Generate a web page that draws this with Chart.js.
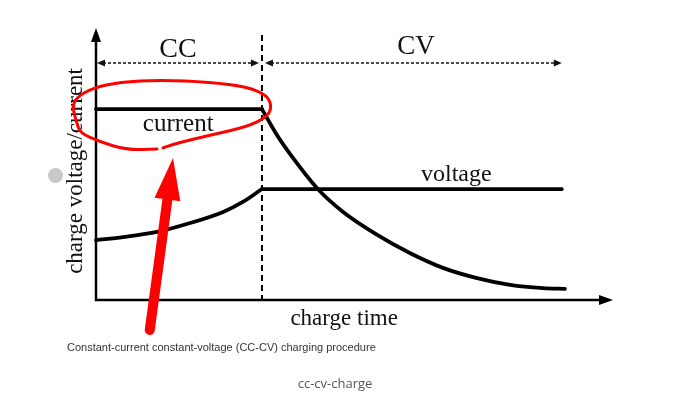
<!DOCTYPE html>
<html>
<head>
<meta charset="utf-8">
<script src="https://cdn.jsdelivr.net/npm/chart.js@4.4.1/dist/chart.umd.min.js"></script>
<style>
  html, body { margin: 0; padding: 0; background: #fff; }
  #wrap { position: relative; width: 684px; height: 401px; overflow: hidden; }
  #c { position: absolute; left: 0; top: 0; }
  .cap1 { position: absolute; left: 67px; top: 341px; font: 11px "Liberation Sans", Arial, sans-serif; color: #333; white-space: nowrap; }
  .cap2 { position: absolute; left: 0; width: 670px; top: 374px; text-align: center; font: 13px "Open Sans", "Noto Sans", sans-serif; color: #555; white-space: nowrap; }
  .dot { position: absolute; left: 48px; top: 168px; width: 15px; height: 15px; border-radius: 50%; background: #c8c8c8; }
</style>
</head>
<body>
<div id="wrap">
  <canvas id="c" width="684" height="401"></canvas>
  <div class="dot"></div>
  <div class="cap1">Constant-current constant-voltage (CC-CV) charging procedure</div>
  <div class="cap2">cc-cv-charge</div>
</div>
<script>
// ---- data (x: charge time, y: charge voltage/current, arbitrary units 0..100) ----
const timeFlat = [0, 32.1];
const currentFlat = [70.7, 70.7];
const timeDecay = [32.1, 35.0, 38.1, 42.9, 47.8, 54.4, 60.7, 67.1, 73.7, 80.1, 86.5, 90.7];
const currentDecay = [70.7, 61.1, 52.6, 41.1, 32.6, 24.1, 17.4, 11.9, 8.1, 5.6, 4.4, 4.1];
const timeRise = [0, 5.2, 11.8, 18.2, 24.6, 28.4, 32.1];
const voltageRise = [22.2, 23.3, 25.2, 28.5, 32.6, 36.3, 41.1];
const timeHold = [32.1, 90.1];
const voltageHold = [41.1, 41.1];

const phaseLabels = ["CC", "CV"];
const phaseSwitch = 32.1;      // time where CC ends and CV begins
const phaseEnd = 90.1;         // end of CV phase arrow
const phaseArrowLevel = 87.8;  // y level of the dashed phase arrows
const curveLabels = ["current", "voltage"];
const xTitle = "charge time";
const yTitle = "charge voltage/current";

// hand-drawn red annotation (data units)
const circleX = [12.96, 14.3, 22.1, 29.2, 33.1, 34.0, 33.1, 29.2, 22.1, 12.4, 4.6, -0.6, -3.7, -4.6, -3.7, -3.1, 0.8, 6.0, 11.8];
const circleY = [56.3, 57.4, 61.1, 64.1, 67.8, 71.5, 75.9, 78.9, 80.7, 81.5, 80.7, 78.5, 75.2, 71.5, 65.6, 61.9, 58.5, 55.6, 55.9];
const pointerTail = [10.4, -11.1];
const pointerTip = [14.9, 52.6];

const toXY = (xs, ys) => xs.map((x, i) => ({ x: x, y: ys[i] }));

const SERIF = '"Liberation Serif", "Times New Roman", serif';

function arrowHead(ctx, tx, ty, dx, dy, len, half) {
  const L = Math.hypot(dx, dy); const ux = dx / L, uy = dy / L;
  const bx = tx - ux * len, by = ty - uy * len;
  ctx.beginPath();
  ctx.moveTo(tx, ty);
  ctx.lineTo(bx - uy * half, by + ux * half);
  ctx.lineTo(bx + uy * half, by - ux * half);
  ctx.closePath();
  ctx.fill();
}

function dashedDoubleArrow(ctx, x1, x2, y) {
  ctx.save();
  ctx.strokeStyle = '#111'; ctx.fillStyle = '#111';
  ctx.lineWidth = 1.5; ctx.setLineDash([3, 2]);
  ctx.beginPath(); ctx.moveTo(x1 + 6, y); ctx.lineTo(x2 - 6, y); ctx.stroke();
  ctx.setLineDash([]);
  arrowHead(ctx, x1, y, -1, 0, 8, 3.5);
  arrowHead(ctx, x2, y, 1, 0, 8, 3.5);
  ctx.restore();
}

const decor = {
  id: 'decor',
  beforeDatasetsDraw(chart) {
    const { ctx, chartArea: a, scales: { x, y } } = chart;
    ctx.save();
    // axes with arrows
    ctx.strokeStyle = '#000'; ctx.fillStyle = '#000'; ctx.lineWidth = 2.5;
    ctx.beginPath();
    ctx.moveTo(a.left, a.top + 10); ctx.lineTo(a.left, a.bottom); ctx.lineTo(a.right - 10, a.bottom);
    ctx.stroke();
    arrowHead(ctx, a.left, a.top - 2, 0, -1, 14, 5);
    arrowHead(ctx, a.right, a.bottom, 1, 0, 14, 5);
    // phase boundary
    const xs = x.getPixelForValue(phaseSwitch);
    ctx.lineWidth = 2; ctx.setLineDash([6, 4]);
    ctx.beginPath(); ctx.moveTo(xs, a.top + 5); ctx.lineTo(xs, a.bottom); ctx.stroke();
    ctx.setLineDash([]);
    ctx.restore();

    const ya = y.getPixelForValue(phaseArrowLevel);
    dashedDoubleArrow(ctx, a.left + 1, xs - 3, ya);
    dashedDoubleArrow(ctx, xs + 3, x.getPixelForValue(phaseEnd), ya);

    // texts
    ctx.save();
    ctx.fillStyle = '#111';
    ctx.textAlign = 'center'; ctx.textBaseline = 'alphabetic';
    ctx.font = '28px ' + SERIF;
    ctx.fillText(phaseLabels[0], x.getPixelForValue(phaseSwitch / 2) - 1, ya - 6);
    ctx.font = '27px ' + SERIF;
    ctx.fillText(phaseLabels[1], x.getPixelForValue((phaseSwitch + phaseEnd) / 2) + 4, ya - 9);
    ctx.font = '25px ' + SERIF;
    ctx.fillText(curveLabels[0], x.getPixelForValue(15.9), y.getPixelForValue(62.6));
    ctx.font = '24px ' + SERIF;
    ctx.fillText(curveLabels[1], x.getPixelForValue(69.7), y.getPixelForValue(44.1));
    ctx.font = '23px ' + SERIF;
    ctx.fillText(xTitle, x.getPixelForValue(48.0), a.bottom + 25);
    ctx.translate(a.left - 14, y.getPixelForValue(47.8));
    ctx.rotate(-Math.PI / 2);
    ctx.fillText(yTitle, 0, 0);
    ctx.restore();
  },
  afterDraw(chart) {
    const { ctx, scales: { x, y } } = chart;
    ctx.save();
    ctx.strokeStyle = '#ff0000'; ctx.fillStyle = '#ff0000';
    ctx.lineWidth = 3; ctx.lineCap = 'round'; ctx.lineJoin = 'round';
    const p = circleX.map((v, i) => [x.getPixelForValue(v), y.getPixelForValue(circleY[i])]);
    ctx.beginPath();
    ctx.moveTo(p[0][0], p[0][1]);
    for (let i = 1; i < p.length - 1; i++) {
      const mx = (p[i][0] + p[i + 1][0]) / 2, my = (p[i][1] + p[i + 1][1]) / 2;
      ctx.quadraticCurveTo(p[i][0], p[i][1], mx, my);
    }
    ctx.lineTo(p[p.length - 1][0], p[p.length - 1][1]);
    ctx.stroke();
    // pointer arrow
    const tx = x.getPixelForValue(pointerTip[0]), ty = y.getPixelForValue(pointerTip[1]);
    const sx = x.getPixelForValue(pointerTail[0]), sy = y.getPixelForValue(pointerTail[1]);
    const L = Math.hypot(tx - sx, ty - sy); const ux = (tx - sx) / L, uy = (ty - sy) / L;
    ctx.lineWidth = 10;
    ctx.beginPath(); ctx.moveTo(sx, sy); ctx.lineTo(tx - ux * 38, ty - uy * 38); ctx.stroke();
    arrowHead(ctx, tx, ty, ux, uy, 42, 13);
    ctx.restore();
  }
};

const line = (d, mode) => ({
  data: d, borderColor: '#000', borderWidth: 3.8, pointRadius: 0, fill: false,
  borderCapStyle: 'round', borderJoinStyle: 'round',
  cubicInterpolationMode: mode, tension: mode === 'monotone' ? 0.4 : 0, clip: false
});

new Chart(document.getElementById('c'), {
  type: 'line',
  data: {
    datasets: [
      Object.assign({ label: curveLabels[0] }, line(toXY(timeFlat, currentFlat), 'default')),
      Object.assign({ label: curveLabels[0] }, line(toXY(timeDecay, currentDecay), 'monotone')),
      Object.assign({ label: curveLabels[1] }, line(toXY(timeRise, voltageRise), 'monotone')),
      Object.assign({ label: curveLabels[1] }, line(toXY(timeHold, voltageHold), 'default'))
    ]
  },
  options: {
    responsive: false, animation: false,
    layout: { padding: { left: 96, right: 71, top: 30, bottom: 101 } },
    plugins: { legend: { display: false }, tooltip: { enabled: false } },
    scales: {
      x: { type: 'linear', min: 0, max: 100, display: false },
      y: { type: 'linear', min: 0, max: 100, display: false }
    }
  },
  plugins: [decor]
});
</script>
</body>
</html>
